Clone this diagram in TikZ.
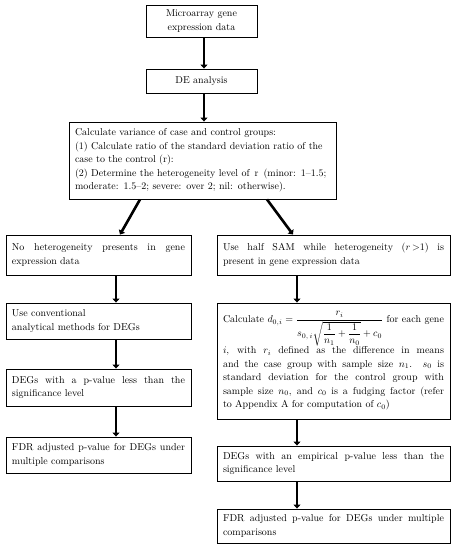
\documentclass[tikz,border=0pt]{standalone}
\usepackage{amsmath}
\usetikzlibrary{arrows.meta}
\begin{document}
\begin{tikzpicture}[x=1pt,y=-1pt,
  box/.style={draw, line width=0.9pt, inner xsep=6pt, inner ysep=2pt,
    font=\fontsize{10}{13.5}\selectfont, align=justify},
  arr/.style={line width=2.6pt, -{Triangle[length=4pt,width=7pt]}}]
  \useasboundingbox (0,0) rectangle (456,550);

  %% columns of the arrows
  \coordinate (mx) at (204,0);
  \coordinate (lx) at (116,0);
  \coordinate (rx) at (297,0);
  \coordinate (dla) at (140,0);
  \coordinate (dlb) at (120,0);
  \coordinate (dra) at (267,0);
  \coordinate (drb) at (293,0);

  %% top
  \node[box, align=center, text width=99pt, minimum height=32pt] (micro) at (201.5,21)
    {Microarray gene\\ expression data};
  \node[box, align=center, text width=99pt, minimum height=24pt] (de) at (201.5,81)
    {DE analysis};
  \node[box, align=left, text width=255pt, minimum height=77pt] (var) at (202.5,160.5)
    {Calculate variance of case and control groups:\\
     (1) Calculate ratio of the standard deviation ratio of the\\
     case to the control (r):\\
     (2) Determine the heterogeneity level of \,r\, (minor: 1--1.5;\\
     moderate: 1.5--2; severe: over 2; nil: otherwise).};

  %% left
  \node[box, text width=173pt, minimum height=40pt] (noh) at (98.5,255)
    {No heterogeneity presents in gene\linebreak expression data};
  \node[box, align=left, text width=173pt, minimum height=36pt] (conv) at (98.5,321)
    {Use conventional\\ analytical methods for DEGs};
  \node[box, text width=173pt, minimum height=37pt] (degl) at (98.5,387.5)
    {DEGs with a p-value less than the\linebreak significance level};
  \node[box, text width=173pt, minimum height=36pt] (fdrl) at (98.5,455)
    {FDR adjusted p-value for DEGs under\linebreak multiple comparisons};

  %% right
  \node[box, text width=221pt, minimum height=40pt] (sam) at (333.5,255)
    {Use half SAM while heterogeneity ($r\,{>}1$) is\linebreak present in gene expression data};
  \node[box, text width=221pt, minimum height=116pt] (calc) at (333.5,361)
    {Calculate $d_{0,i}=\dfrac{r_i}{s_{0,\,i}\sqrt{\dfrac{1}{n_1}+\dfrac{1}{n_0}}+c_0}$ for each gene\linebreak
     $i$, with $r_i$ defined as the difference in means\linebreak
     and the case group with sample size $n_1$. $s_0$ is\linebreak
     standard deviation for the control group with\linebreak
     sample size $n_0$, and $c_0$ is a fudging factor (refer\linebreak
     to Appendix A for computation of $c_0$)};
  \node[box, text width=221pt, minimum height=35pt] (degr) at (333.5,463.5)
    {DEGs with an empirical p-value less than the\linebreak significance level};
  \node[box, text width=221pt, minimum height=34pt] (fdrr) at (333.5,526)
    {FDR adjusted p-value for DEGs under multiple\linebreak comparisons};

  %% arrows
  \draw[arr] (micro.south -| mx) -- (de.north -| mx);
  \draw[arr] (de.south -| mx) -- (var.north -| mx);
  \draw[arr] (var.south -| dla) -- (noh.north -| dlb);
  \draw[arr] (var.south -| dra) -- (sam.north -| drb);
  \draw[arr] (noh.south -| lx) -- (conv.north -| lx);
  \draw[arr] (conv.south -| lx) -- (degl.north -| lx);
  \draw[arr] (degl.south -| lx) -- (fdrl.north -| lx);
  \draw[arr] (sam.south -| rx) -- (calc.north -| rx);
  \draw[arr] (calc.south -| rx) -- (degr.north -| rx);
  \draw[arr] (degr.south -| rx) -- (fdrr.north -| rx);
\end{tikzpicture}
\end{document}
